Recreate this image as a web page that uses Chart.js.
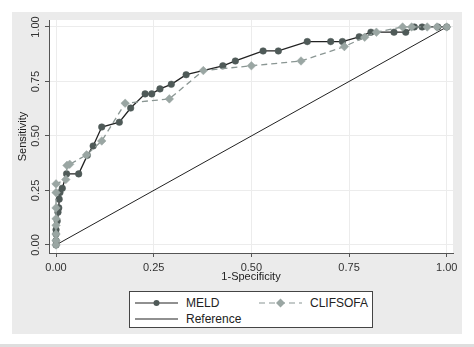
<!DOCTYPE html>
<html>
<head>
<meta charset="utf-8">
<script src="https://cdn.jsdelivr.net/npm/chart.js@4"></script>
<style>
  html, body { margin: 0; padding: 0; background: #fff; }
  #wrap { position: relative; width: 474px; height: 347px; }
  #legend {
    position: absolute; left: 129px; top: 291px; width: 242px; height: 35px;
    border: 1px solid #444; background: #fff;
    font-family: 'Liberation Sans', Arial, sans-serif; font-size: 12px; color: #222;
    box-sizing: content-box;
  }
  #legend .item { position: absolute; display: flex; align-items: center; height: 16px; line-height: 16px; white-space: nowrap; }
  #legend svg { margin-right: 8px; }
</style>
</head>
<body>
<div id="wrap">
  <canvas id="roc" width="474" height="347"></canvas>
  <div id="legend"></div>
</div>
<script>
// ROC coordinates
const meldFpr = [0, 0, 0, 0, 0.003, 0.005, 0.007, 0.008, 0.010, 0.016, 0.027, 0.058, 0.080, 0.095, 0.117, 0.162, 0.191, 0.228, 0.245, 0.266, 0.295, 0.333, 0.427, 0.459, 0.530, 0.569, 0.643, 0.703, 0.733, 0.776, 0.806, 0.865, 0.895, 0.917, 0.937, 0.977, 1.0];
const meldTpr = [0, 0.02, 0.05, 0.07, 0.11, 0.15, 0.17, 0.21, 0.24, 0.26, 0.326, 0.326, 0.411, 0.454, 0.541, 0.563, 0.628, 0.693, 0.693, 0.716, 0.737, 0.781, 0.822, 0.844, 0.890, 0.890, 0.933, 0.933, 0.933, 0.955, 0.976, 0.976, 0.976, 1.0, 1.0, 1.0, 1.0];

const clifFpr = [0, 0, 0, 0, 0, 0, 0, 0, 0.025, 0.028, 0.035, 0.078, 0.117, 0.177, 0.290, 0.377, 0.500, 0.627, 0.738, 0.790, 0.820, 0.887, 0.910, 0.950, 0.975, 1.0];
const clifTpr = [0, 0.02, 0.05, 0.09, 0.12, 0.17, 0.24, 0.28, 0.30, 0.365, 0.37, 0.413, 0.477, 0.650, 0.670, 0.800, 0.822, 0.844, 0.910, 0.953, 0.976, 1.0, 1.0, 1.0, 1.0, 1.0];

const refFpr = [0, 1];
const refTpr = [0, 1];

const tickVals = [0, 0.25, 0.5, 0.75, 1];
const seriesNames = ["MELD", "CLIFSOFA", "Reference"];

const toPoints = (xs, ys) => xs.map((x, i) => ({ x: x, y: ys[i] }));

Chart.defaults.font.family = "'Liberation Sans', Arial, sans-serif";

// grey graph region + white plot region, like the Stata scheme
const panelBg = {
    id: "panelBg",
    beforeDraw(chart) {
        const { ctx, chartArea: a } = chart;
        ctx.save();
        ctx.fillStyle = "#ffffff";
        ctx.fillRect(0, 0, chart.width, chart.height);
        ctx.fillStyle = "#ebebeb";
        ctx.fillRect(12, 12, 450, 322);
        ctx.fillStyle = "#ffffff";
        ctx.fillRect(a.left, a.top, a.right - a.left, a.bottom - a.top);
        ctx.fillStyle = "#dedede";
        ctx.fillRect(0, 344, chart.width, 3);
        ctx.restore();
    }
};

// html legend built from the datasets
const htmlLegend = {
    id: "htmlLegend",
    afterUpdate(chart) {
        const box = document.getElementById("legend");
        box.innerHTML = "";
        const slots = [
            { left: 5, top: 3 },
            { left: 129, top: 3 },
            { left: 5, top: 19 }
        ];
        chart.data.datasets.forEach((ds, i) => {
            const item = document.createElement("div");
            item.className = "item";
            item.style.left = slots[i].left + "px";
            item.style.top = slots[i].top + "px";
            const dash = ds.borderDash && ds.borderDash.length ? `stroke-dasharray="${ds.borderDash.join(",")}"` : "";
            let marker = "";
            if (ds.pointRadius > 0 && ds.pointStyle === "circle") {
                marker = `<circle cx="21.5" cy="5" r="3" fill="${ds.pointBackgroundColor}"/>`;
            } else if (ds.pointRadius > 0 && ds.pointStyle === "rectRot") {
                marker = `<polygon points="21.5,0.5 26,5 21.5,9.5 17,5" fill="${ds.pointBackgroundColor}"/>`;
            }
            item.innerHTML = `<svg width="43" height="10" viewBox="0 0 43 10"><line x1="0" y1="5" x2="43" y2="5" stroke="${ds.borderColor}" stroke-width="1.2" ${dash}/>${marker}</svg><span>${ds.label}</span>`;
            box.appendChild(item);
        });
    }
};

const axisBase = {
    type: "linear",
    afterBuildTicks: (s) => { s.ticks = tickVals.map((v) => ({ value: v })); },
    grid: { color: "#ececec", tickColor: "#555", tickLength: 4, lineWidth: 1 },
    border: { color: "#555", width: 1 }
};

new Chart(document.getElementById("roc"), {
    type: "line",
    data: {
        datasets: [{
            label: seriesNames[0],
            data: toPoints(meldFpr, meldTpr),
            borderColor: "#222222",
            borderWidth: 1.3,
            pointStyle: "circle",
            pointRadius: 3.3,
            pointBackgroundColor: "#4f5a58",
            pointBorderColor: "#4f5a58",
            pointBorderWidth: 0.5,
            tension: 0,
            order: 2
        }, {
            label: seriesNames[1],
            data: toPoints(clifFpr, clifTpr),
            borderColor: "#8a9693",
            borderWidth: 1.3,
            borderDash: [6, 4],
            pointStyle: "rectRot",
            pointRadius: 4.3,
            pointBackgroundColor: "#9aa6a3",
            pointBorderColor: "#9aa6a3",
            pointBorderWidth: 0.5,
            tension: 0,
            order: 1
        }, {
            label: seriesNames[2],
            data: toPoints(refFpr, refTpr),
            borderColor: "#222222",
            borderWidth: 1,
            pointRadius: 0,
            tension: 0,
            order: 3
        }]
    },
    options: {
        responsive: false,
        devicePixelRatio: 1,
        animation: false,
        layout: { padding: { left: 12, right: 21, top: 20, bottom: 59 } },
        plugins: {
            legend: { display: false },
            tooltip: { enabled: false }
        },
        scales: {
            x: {
                ...axisBase,
                min: -0.018,
                max: 1.016,
                afterFit: (s) => { s.height = 35; },
                ticks: {
                    color: "#333",
                    font: { size: 11 },
                    padding: 4,
                    maxRotation: 0,
                    autoSkip: false,
                    callback: (v) => v.toFixed(2)
                },
                title: {
                    display: true,
                    text: "1-Specificity",
                    color: "#222",
                    font: { size: 11 },
                    padding: { top: 0, bottom: 4 }
                }
            },
            y: {
                ...axisBase,
                min: -0.037,
                max: 1.032,
                afterFit: (s) => { s.width = 37; },
                ticks: {
                    color: "#333",
                    font: { size: 11 },
                    padding: -2,
                    minRotation: 90,
                    maxRotation: 90,
                    crossAlign: "center",
                    autoSkip: false,
                    callback: (v) => v.toFixed(2)
                },
                title: {
                    display: true,
                    text: "Sensitivity",
                    color: "#222",
                    font: { size: 11 },
                    padding: { top: 4, bottom: 0 }
                }
            }
        }
    },
    plugins: [panelBg, htmlLegend]
});
</script>
</body>
</html>
